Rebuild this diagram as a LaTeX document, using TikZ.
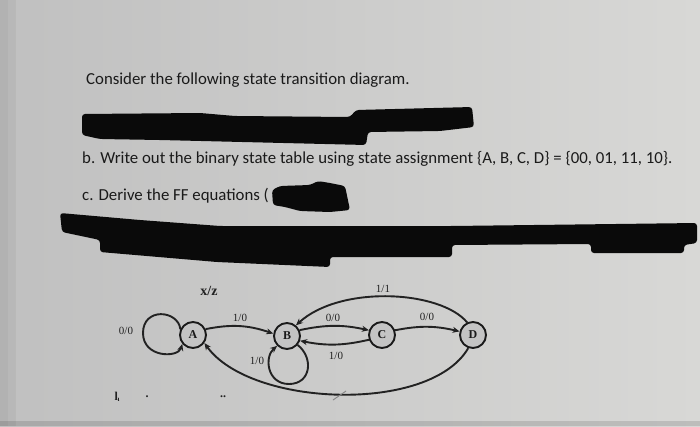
\documentclass[tikz,border=0pt]{standalone}
\usepackage{fontspec}
\setmainfont{Carlito}
\newfontfamily\diafont{Liberation Serif}
\usetikzlibrary{arrows.meta}
\definecolor{bgL}{RGB}{192,192,192}
\definecolor{bgM}{RGB}{230,230,228}
\definecolor{bgR}{RGB}{216,216,214}
\definecolor{ink}{RGB}{26,26,26}
\definecolor{lineink}{RGB}{34,34,34}
\definecolor{statefill}{RGB}{196,196,196}
\definecolor{redact}{RGB}{10,10,10}
\tikzset{
  qtext/.style={anchor=base west, inner sep=0pt, text=ink, font=\fontsize{16.8}{19}\selectfont},
  statenode/.style={circle, draw=ink, line width=1.9pt, fill=statefill, minimum size=26pt, inner sep=0pt, font=\diafont\bfseries\fontsize{12}{13}\selectfont, text=ink},
  edge/.style={draw=lineink, line width=1.9pt, -{Stealth[length=7pt,width=6pt]}},
  elabel/.style={inner sep=0pt, text=lineink, font=\diafont\fontsize{11}{12}\selectfont},
  blot/.style={fill=redact, rounded corners=3pt},
}
\begin{document}
\begin{tikzpicture}[x=1pt,y=1pt]
\useasboundingbox (0,0) rectangle (700,-426);
\shade[left color=bgL, middle color=bgM, right color=bgR] (0,0) rectangle (700,-426);
\fill[black, opacity=0.07] (0,0) rectangle (8,-426);
\fill[black, opacity=0.04] (8,0) rectangle (16,-426);
\fill[black, opacity=0.12] (0,-421) rectangle (700,-426);

% question text
\node[qtext] (t1) at (86,-84) {Consider the following state transition diagram.};
\node[qtext] (t2) at (82,-163) {b. Write out the binary state table using state assignment \{A, B, C, D\} = \{00, 01, 11, 10\}.};
\node[qtext] (t3) at (82,-200) {c. Derive the FF equations (};

% redactions
\fill[blot] (82,-114) -- (200,-113) -- (235,-116) -- (350,-117) -- (356,-110) -- (472,-107) -- (474,-127) -- (440,-131) -- (368,-132) -- (366,-145) -- (160,-140) -- (100,-139) -- (82,-135) -- cycle;
\fill[blot] (272,-190) -- (280,-186) -- (310,-185) -- (318,-181) -- (330,-183) -- (345,-186) -- (350,-210) -- (330,-212) -- (300,-211) -- (285,-207) -- (273,-205) -- cycle;
\fill[blot] (60,-213) -- (140,-220) -- (220,-226) -- (452,-226) -- (697,-223) -- (697,-243) -- (684,-245) -- (684,-253) -- (591,-253) -- (591,-244) -- (452,-245) -- (452,-257) -- (330,-257) -- (330,-267) -- (217,-262) -- (100,-252) -- (100,-240) -- (62,-232) -- cycle;

% diagram
\node[elabel, font=\diafont\bfseries\fontsize{14}{15}\selectfont] (xz) at (209,-291) {x/z};
\node[statenode] (A) at (193,-335) {A};
\node[statenode] (B) at (287,-336) {B};
\node[statenode] (C) at (382,-335) {C};
\node[statenode] (D) at (473,-335) {D};

\draw[edge] (A.155) .. controls (178,-310) and (143,-307) .. (143,-333)
                    .. controls (143,-358) and (178,-358) .. (A.220);
\node[elabel] (lAA) at (126,-331) {0/0};
\draw[edge] (A.25) to[bend left=15] (B.170);
\node[elabel] (lAB) at (240,-318) {1/0};
\draw[edge] (B.-40) .. controls (314,-358) and (311,-384) .. (289,-384)
                    .. controls (267,-384) and (264,-357) .. (B.-135);
\node[elabel] (lBB) at (257,-361) {1/0};
\draw[edge] (B.25) to[bend left=12] (C.160);
\node[elabel] (lBC) at (333,-318) {0/0};
\draw[edge] (C.-160) to[bend left=12] (B.-20);
\node[elabel] (lCB) at (336,-356) {1/0};
\draw[edge] (C.20) to[bend left=12] (D.165);
\node[elabel] (lCD) at (427,-317) {0/0};
\draw[edge] (D.115) .. controls (440,-290) and (340,-285) .. (B.50);
\node[elabel] (lDB) at (383,-289) {1/1};
\draw[edge] (D.-110) .. controls (430,-414) and (250,-407) .. (A.-35);
\draw[draw=lineink!55, line width=0.9pt] (333,-400) -- (346,-391);

% partial marks at the bottom
\node[elabel, font=\diafont\bfseries\fontsize{12}{13}\selectfont] (m1) at (117,-397) {l\kern-0.3pt\raisebox{-1pt}{\fontsize{7}{8}\selectfont ı}};
\node[elabel, font=\diafont\bfseries\fontsize{12}{13}\selectfont] (m2) at (147,-397) {.};
\node[elabel, font=\diafont\bfseries\fontsize{12}{13}\selectfont] (m3) at (223,-397) {..};
\end{tikzpicture}
\end{document}
